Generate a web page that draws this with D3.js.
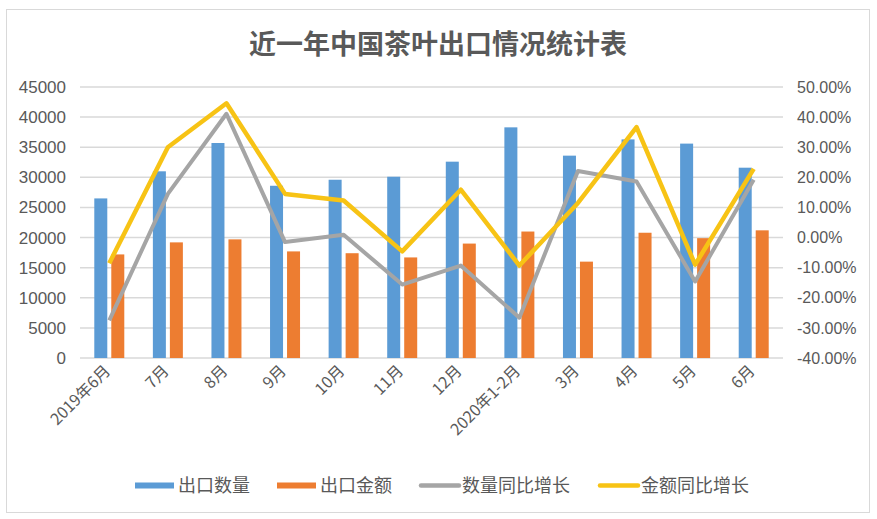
<!DOCTYPE html>
<html>
<head>
<meta charset="utf-8">
<script src="https://cdn.jsdelivr.net/npm/d3@7"></script>
<style>
  body { margin: 0; background: #fff; }
  text { font-family: "Noto Sans CJK SC", "Liberation Sans", sans-serif; }
</style>
</head>
<body>
<div id="chart"></div>
<script>
// data
const months = ["2019年6月", "7月", "8月", "9月", "10月", "11月", "12月", "2020年1-2月", "3月", "4月", "5月", "6月"];
const exportVolume = [26500, 31000, 35700, 28600, 29600, 30100, 32600, 38300, 33600, 36300, 35600, 31600];
const exportValue = [17200, 19200, 19700, 17700, 17400, 16700, 19000, 21000, 16000, 20800, 19900, 21200];
const volumeGrowth = [-27.5, 14.5, 41.1, -1.5, 0.9, -15.6, -9.3, -26.6, 22.1, 18.6, -14.6, 19.2];
const valueGrowth = [-8.5, 30.0, 44.6, 14.5, 12.3, -4.6, 15.9, -9.3, 11.5, 36.7, -9.0, 22.8];
const leftTicks = [0, 5000, 10000, 15000, 20000, 25000, 30000, 35000, 40000, 45000];
const rightTicks = [-40, -30, -20, -10, 0, 10, 20, 30, 40, 50];

const W = 877, H = 519;
const margin = { top: 87, right: 94, bottom: 161, left: 80 };
const width = W - margin.left - margin.right,
  height = H - margin.top - margin.bottom;

const colors = { blue: "#5b9bd5", orange: "#ed7d31", gray: "#a5a5a5", yellow: "#f7c315" };
const textColor = "#595959";

const svg = d3
  .select("#chart")
  .append("svg")
  .attr("width", W)
  .attr("height", H);

// outer chart border
svg
  .append("rect")
  .attr("x", 6.5)
  .attr("y", 9.5)
  .attr("width", 863)
  .attr("height", 503)
  .attr("fill", "#fff")
  .attr("stroke", "#d9d9d9");

svg
  .append("text")
  .attr("x", 438)
  .attr("y", 54)
  .attr("text-anchor", "middle")
  .attr("fill", textColor)
  .style("font-size", "27px")
  .style("font-weight", "bold")
  .text("近一年中国茶叶出口情况统计表");

const g = svg.append("g").attr("transform", `translate(${margin.left},${margin.top})`);

const x = d3.scaleBand().domain(months).range([0, width]).paddingInner(0.4).paddingOuter(0.2);
const y = d3.scaleLinear().domain([0, 45000]).range([height, 0]);
const y2 = d3.scaleLinear().domain([-40, 50]).range([height, 0]);

// gridlines
g.append("g")
  .selectAll("line")
  .data(leftTicks)
  .join("line")
  .attr("x1", 0)
  .attr("x2", width)
  .attr("y1", (d) => y(d))
  .attr("y2", (d) => y(d))
  .attr("stroke", "#d9d9d9")
  .attr("stroke-width", 1.5);

// left axis
const leftAxis = g
  .append("g")
  .call(d3.axisLeft(y).tickValues(leftTicks).tickSize(0).tickPadding(14).tickFormat((d) => String(d)));
leftAxis.select(".domain").remove();
leftAxis.selectAll("text").attr("fill", textColor).style("font-size", "17px").style("font-family", "Liberation Sans, sans-serif");

// right axis
const rightAxis = g
  .append("g")
  .attr("transform", `translate(${width},0)`)
  .call(d3.axisRight(y2).tickValues(rightTicks).tickSize(0).tickPadding(14).tickFormat((d) => d.toFixed(2) + "%"));
rightAxis.select(".domain").remove();
rightAxis.selectAll("text").attr("fill", textColor).style("font-size", "16px").style("font-family", "Liberation Sans, sans-serif");

// bottom axis labels, rotated
const bottomAxis = g
  .append("g")
  .attr("transform", `translate(0,${height})`)
  .call(d3.axisBottom(x).tickSize(0).tickPadding(0));
bottomAxis.select(".domain").remove();
bottomAxis
  .selectAll("text")
  .attr("fill", textColor)
  .style("font-size", "16px")
  .attr("text-anchor", "end")
  .attr("dy", null)
  .attr("transform", "translate(2,14) rotate(-45)");

// bars
const barW = 13;
const cx = (i) => x(months[i]) + x.bandwidth() / 2;

g.append("g")
  .selectAll("rect")
  .data(exportVolume)
  .join("rect")
  .attr("x", (d, i) => cx(i) - barW - 2)
  .attr("y", (d) => y(d))
  .attr("width", barW)
  .attr("height", (d) => height - y(d))
  .attr("fill", colors.blue);

g.append("g")
  .selectAll("rect")
  .data(exportValue)
  .join("rect")
  .attr("x", (d, i) => cx(i) + 2)
  .attr("y", (d) => y(d))
  .attr("width", barW)
  .attr("height", (d) => height - y(d))
  .attr("fill", colors.orange);

// growth lines
const line = d3
  .line()
  .x((d, i) => cx(i))
  .y((d) => y2(d));

g.append("path")
  .datum(volumeGrowth)
  .attr("d", line)
  .attr("fill", "none")
  .attr("stroke", colors.gray)
  .attr("stroke-width", 4)
  .attr("stroke-linejoin", "round");

g.append("path")
  .datum(valueGrowth)
  .attr("d", line)
  .attr("fill", "none")
  .attr("stroke", colors.yellow)
  .attr("stroke-width", 4.5)
  .attr("stroke-linejoin", "round");

// legend
const legendItems = [
  { name: "出口数量", color: colors.blue, type: "bar", x: 135 },
  { name: "出口金额", color: colors.orange, type: "bar", x: 277 },
  { name: "数量同比增长", color: colors.gray, type: "line", x: 419 },
  { name: "金额同比增长", color: colors.yellow, type: "line", x: 598 },
];
const legend = svg
  .append("g")
  .selectAll("g")
  .data(legendItems)
  .join("g")
  .attr("transform", (d) => `translate(${d.x},485.5)`);

legend
  .filter((d) => d.type === "bar")
  .append("rect")
  .attr("x", 0)
  .attr("y", -3)
  .attr("width", 39)
  .attr("height", 6)
  .attr("fill", (d) => d.color);

legend
  .filter((d) => d.type === "line")
  .append("line")
  .attr("x1", 2)
  .attr("x2", 40)
  .attr("y1", 0)
  .attr("y2", 0)
  .attr("stroke", (d) => d.color)
  .attr("stroke-width", 4.5)
  .attr("stroke-linecap", "round");

legend
  .append("text")
  .attr("x", 43)
  .attr("y", 0)
  .attr("dy", "0.35em")
  .attr("fill", textColor)
  .style("font-size", "18px")
  .text((d) => d.name);
</script>
</body>
</html>
